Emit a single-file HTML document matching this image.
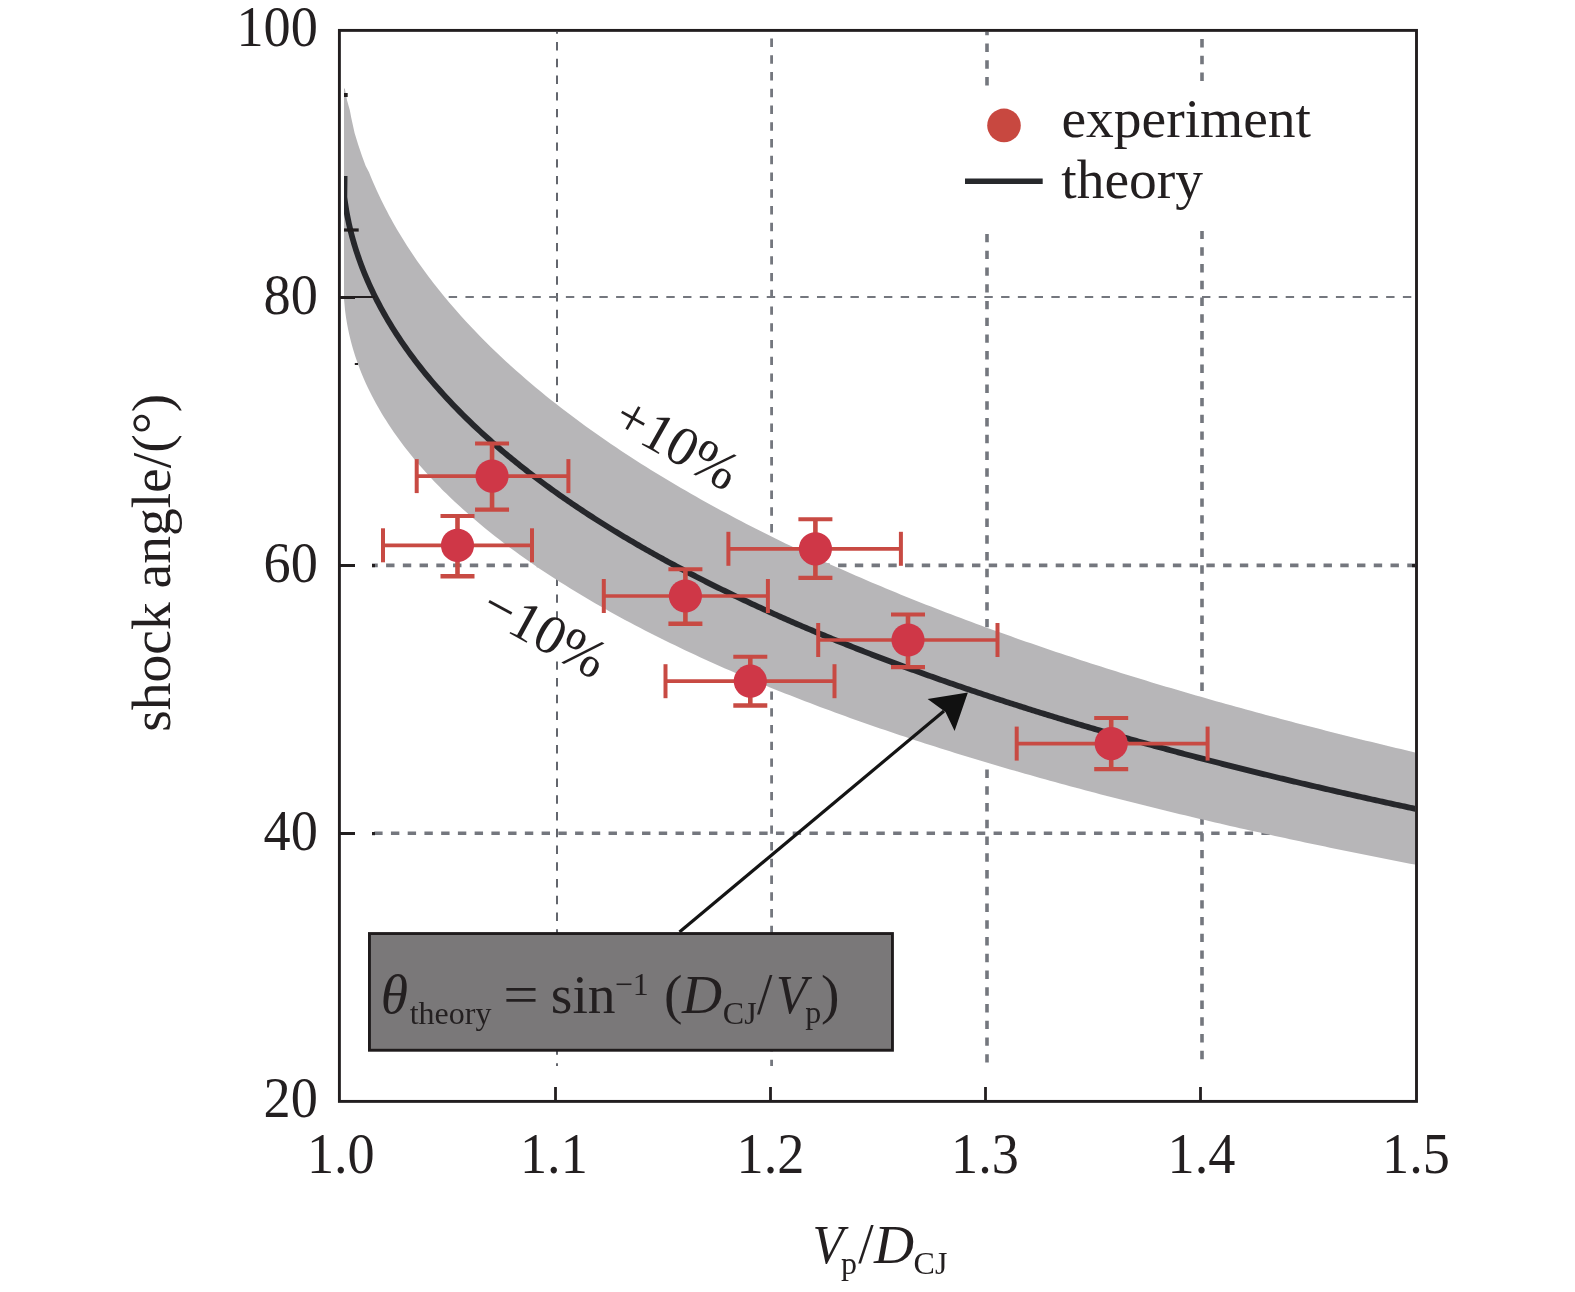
<!DOCTYPE html>
<html><head><meta charset="utf-8"><style>
html,body{margin:0;padding:0;background:#fff;overflow:hidden;}
svg{display:block;will-change:transform;}
text{font-family:"Liberation Serif",serif;fill:#231f20;}
.it{font-style:italic;}
</style></head><body>
<svg width="1575" height="1292" viewBox="0 0 1575 1292">
<rect width="1575" height="1292" fill="#fff"/>
<defs><clipPath id="pc"><rect x="340.8" y="31" width="1074.2" height="1069"/></clipPath><clipPath id="pc2"><rect x="344" y="31" width="1071" height="1069"/></clipPath></defs>
<line x1="557.0" y1="32" x2="557.0" y2="618" stroke="#63666d" stroke-width="2.0" stroke-dasharray="8.4 8.34" stroke-dashoffset="6.74"/>
<line x1="557.0" y1="661" x2="557.0" y2="1066" stroke="#63666d" stroke-width="2.0" stroke-dasharray="8.4 8.34" stroke-dashoffset="16.36"/>
<line x1="771.6" y1="32" x2="771.6" y2="1066" stroke="#74777e" stroke-width="2.8" stroke-dasharray="8.4 8.34" stroke-dashoffset="10.14"/>
<line x1="987.0" y1="32" x2="987.0" y2="87" stroke="#74777e" stroke-width="3.6" stroke-dasharray="8.4 8.34" stroke-dashoffset="5.24"/>
<line x1="987.0" y1="227" x2="987.0" y2="1063" stroke="#74777e" stroke-width="3.6" stroke-dasharray="8.4 8.34" stroke-dashoffset="9.8"/>
<line x1="1202.0" y1="39" x2="1202.0" y2="82" stroke="#74777e" stroke-width="3.6" stroke-dasharray="8.4 8.34" stroke-dashoffset="0"/>
<line x1="1202.0" y1="231" x2="1202.0" y2="1063" stroke="#74777e" stroke-width="3.6" stroke-dasharray="8.4 8.34" stroke-dashoffset="0.44"/>
<line x1="372" y1="297.0" x2="1415" y2="297.0" stroke="#74777e" stroke-width="2.2" stroke-dasharray="8.4 8.34" stroke-dashoffset="7.0"/>
<line x1="372" y1="565.4" x2="1415" y2="565.4" stroke="#74777e" stroke-width="3.6" stroke-dasharray="8.4 8.34" stroke-dashoffset="2.64"/>
<line x1="372" y1="833.2" x2="1415" y2="833.2" stroke="#74777e" stroke-width="3.6" stroke-dasharray="8.4 8.34" stroke-dashoffset="14.54"/>
<g clip-path="url(#pc)">
<path d="M344.00,88.40 L344.80,88.40 L347.10,100.40 L349.90,110.60 L351.30,118.00 L354.60,132.90 L358.30,145.00 L362.00,156.10 L365.70,166.00 L369.00,172.33 L371.00,177.26 L373.00,182.01 L375.00,186.59 L377.00,191.03 L379.00,195.33 L381.00,199.50 L383.00,203.56 L385.00,207.52 L387.00,211.37 L389.00,215.14 L391.00,218.82 L393.00,222.41 L395.00,225.93 L397.00,229.38 L399.00,232.76 L401.00,236.08 L403.00,239.34 L405.00,242.54 L407.00,245.68 L409.00,248.77 L411.00,251.81 L413.00,254.80 L415.00,257.75 L417.00,260.65 L419.00,263.51 L421.00,266.33 L423.00,269.11 L425.00,271.85 L427.00,274.56 L429.00,277.23 L431.00,279.86 L433.00,282.47 L435.00,285.04 L437.00,287.58 L439.00,290.09 L441.00,292.57 L443.00,295.03 L445.00,297.45 L447.00,299.85 L449.00,302.23 L451.00,304.58 L456.00,310.34 L461.00,315.97 L466.00,321.46 L471.00,326.83 L476.00,332.08 L481.00,337.21 L486.00,342.24 L491.00,347.17 L496.00,352.00 L501.00,356.74 L506.00,361.39 L511.00,365.96 L516.00,370.45 L521.00,374.86 L526.00,379.20 L531.00,383.47 L536.00,387.67 L541.00,391.81 L546.00,395.88 L551.00,399.89 L556.00,403.84 L561.00,407.74 L566.00,411.58 L571.00,415.37 L576.00,419.11 L581.00,422.79 L586.00,426.43 L591.00,430.03 L596.00,433.57 L601.00,437.08 L606.00,440.54 L611.00,443.95 L616.00,447.33 L621.00,450.67 L626.00,453.97 L631.00,457.23 L636.00,460.45 L641.00,463.64 L646.00,466.80 L651.00,469.92 L656.00,473.01 L661.00,476.06 L666.00,479.08 L671.00,482.08 L676.00,485.04 L681.00,487.97 L686.00,490.87 L691.00,493.75 L696.00,496.59 L701.00,499.41 L706.00,502.21 L711.00,504.97 L716.00,507.71 L721.00,510.43 L726.00,513.12 L731.00,515.79 L736.00,518.43 L741.00,521.05 L746.00,523.64 L751.00,526.22 L756.00,528.77 L761.00,531.30 L766.00,533.81 L771.00,536.30 L776.00,538.77 L781.00,541.21 L786.00,543.64 L791.00,546.05 L796.00,548.44 L801.00,550.81 L806.00,553.16 L811.00,555.49 L816.00,557.80 L821.00,560.10 L826.00,562.38 L831.00,564.64 L836.00,566.89 L841.00,569.11 L846.00,571.32 L851.00,573.52 L856.00,575.70 L861.00,577.86 L866.00,580.01 L871.00,582.14 L876.00,584.26 L881.00,586.36 L886.00,588.45 L891.00,590.52 L896.00,592.58 L901.00,594.63 L906.00,596.66 L911.00,598.67 L916.00,600.68 L921.00,602.67 L926.00,604.64 L931.00,606.61 L936.00,608.56 L941.00,610.50 L946.00,612.42 L951.00,614.33 L956.00,616.24 L961.00,618.12 L966.00,620.00 L971.00,621.87 L976.00,623.72 L981.00,625.56 L986.00,627.39 L991.00,629.21 L996.00,631.02 L1001.00,632.81 L1006.00,634.60 L1011.00,636.37 L1016.00,638.14 L1021.00,639.89 L1026.00,641.64 L1031.00,643.37 L1036.00,645.09 L1041.00,646.80 L1046.00,648.51 L1051.00,650.20 L1056.00,651.88 L1061.00,653.56 L1066.00,655.22 L1071.00,656.87 L1076.00,658.52 L1081.00,660.16 L1086.00,661.78 L1091.00,663.40 L1096.00,665.01 L1101.00,666.61 L1106.00,668.20 L1111.00,669.78 L1116.00,671.35 L1121.00,672.92 L1126.00,674.48 L1131.00,676.02 L1136.00,677.56 L1141.00,679.10 L1146.00,680.62 L1151.00,682.14 L1156.00,683.64 L1161.00,685.14 L1166.00,686.63 L1171.00,688.12 L1176.00,689.60 L1181.00,691.06 L1186.00,692.53 L1191.00,693.98 L1196.00,695.43 L1201.00,696.86 L1206.00,698.30 L1211.00,699.72 L1216.00,701.14 L1221.00,702.55 L1226.00,703.95 L1231.00,705.35 L1236.00,706.74 L1241.00,708.12 L1246.00,709.50 L1251.00,710.87 L1256.00,712.23 L1261.00,713.59 L1266.00,714.93 L1271.00,716.28 L1276.00,717.61 L1281.00,718.94 L1286.00,720.27 L1291.00,721.59 L1296.00,722.90 L1301.00,724.20 L1306.00,725.50 L1311.00,726.79 L1316.00,728.08 L1321.00,729.36 L1326.00,730.64 L1331.00,731.91 L1336.00,733.17 L1341.00,734.43 L1346.00,735.68 L1351.00,736.93 L1356.00,738.17 L1361.00,739.40 L1366.00,740.63 L1371.00,741.86 L1376.00,743.07 L1381.00,744.29 L1386.00,745.49 L1391.00,746.70 L1396.00,747.89 L1401.00,749.09 L1406.00,750.27 L1411.00,751.45 L1415.50,752.51 L1415.50,864.69 L1415.00,864.60 L1410.00,863.63 L1405.00,862.67 L1400.00,861.69 L1395.00,860.72 L1390.00,859.74 L1385.00,858.75 L1380.00,857.76 L1375.00,856.77 L1370.00,855.77 L1365.00,854.77 L1360.00,853.76 L1355.00,852.75 L1350.00,851.74 L1345.00,850.72 L1340.00,849.69 L1335.00,848.66 L1330.00,847.63 L1325.00,846.59 L1320.00,845.54 L1315.00,844.49 L1310.00,843.44 L1305.00,842.38 L1300.00,841.32 L1295.00,840.25 L1290.00,839.17 L1285.00,838.09 L1280.00,837.01 L1275.00,835.92 L1270.00,834.83 L1265.00,833.73 L1260.00,832.62 L1255.00,831.51 L1250.00,830.39 L1245.00,829.27 L1240.00,828.15 L1235.00,827.01 L1230.00,825.88 L1225.00,824.73 L1220.00,823.58 L1215.00,822.43 L1210.00,821.27 L1205.00,820.10 L1200.00,818.93 L1195.00,817.75 L1190.00,816.56 L1185.00,815.37 L1180.00,814.18 L1175.00,812.97 L1170.00,811.76 L1165.00,810.55 L1160.00,809.33 L1155.00,808.10 L1150.00,806.86 L1145.00,805.62 L1140.00,804.37 L1135.00,803.12 L1130.00,801.86 L1125.00,800.59 L1120.00,799.32 L1115.00,798.03 L1110.00,796.74 L1105.00,795.45 L1100.00,794.15 L1095.00,792.84 L1090.00,791.52 L1085.00,790.19 L1080.00,788.86 L1075.00,787.52 L1070.00,786.17 L1065.00,784.82 L1060.00,783.45 L1055.00,782.08 L1050.00,780.71 L1045.00,779.32 L1040.00,777.92 L1035.00,776.52 L1030.00,775.11 L1025.00,773.69 L1020.00,772.26 L1015.00,770.83 L1010.00,769.38 L1005.00,767.93 L1000.00,766.46 L995.00,764.99 L990.00,763.51 L985.00,762.02 L980.00,760.52 L975.00,759.01 L970.00,757.49 L965.00,755.97 L960.00,754.43 L955.00,752.88 L950.00,751.33 L945.00,749.76 L940.00,748.18 L935.00,746.59 L930.00,745.00 L925.00,743.39 L920.00,741.77 L915.00,740.14 L910.00,738.50 L905.00,736.84 L900.00,735.18 L895.00,733.50 L890.00,731.82 L885.00,730.12 L880.00,728.41 L875.00,726.69 L870.00,724.95 L865.00,723.20 L860.00,721.44 L855.00,719.67 L850.00,717.89 L845.00,716.09 L840.00,714.27 L835.00,712.45 L830.00,710.61 L825.00,708.76 L820.00,706.89 L815.00,705.01 L810.00,703.11 L805.00,701.20 L800.00,699.27 L795.00,697.33 L790.00,695.37 L785.00,693.40 L780.00,691.41 L775.00,689.41 L770.00,687.38 L765.00,685.34 L760.00,683.29 L755.00,681.21 L750.00,679.12 L745.00,677.01 L740.00,674.89 L735.00,672.74 L730.00,670.57 L725.00,668.39 L720.00,666.18 L715.00,663.95 L710.00,661.71 L705.00,659.44 L700.00,657.15 L695.00,654.84 L690.00,652.51 L685.00,650.15 L680.00,647.77 L675.00,645.37 L670.00,642.94 L665.00,640.49 L660.00,638.01 L655.00,635.50 L650.00,632.97 L645.00,630.41 L640.00,627.83 L635.00,625.21 L630.00,622.57 L625.00,619.89 L620.00,617.19 L615.00,614.45 L610.00,611.68 L605.00,608.87 L600.00,606.04 L595.00,603.16 L590.00,600.25 L585.00,597.31 L580.00,594.32 L575.00,591.30 L570.00,588.23 L565.00,585.12 L560.00,581.97 L555.00,578.77 L550.00,575.53 L545.00,572.24 L540.00,568.90 L535.00,565.50 L530.00,562.05 L525.00,558.55 L520.00,554.99 L515.00,551.37 L510.00,547.68 L505.00,543.93 L500.00,540.11 L495.00,536.21 L490.00,532.25 L485.00,528.20 L480.00,524.07 L475.00,519.85 L470.00,515.53 L465.00,511.12 L460.00,506.61 L455.00,501.98 L450.00,497.24 L448.00,495.31 L446.00,493.35 L444.00,491.38 L442.00,489.38 L440.00,487.36 L438.00,485.32 L436.00,483.26 L434.00,481.17 L432.00,479.05 L430.00,476.91 L428.00,474.73 L426.00,472.54 L424.00,470.31 L422.00,468.05 L420.00,465.76 L418.00,463.44 L416.00,461.08 L414.00,458.69 L412.00,456.26 L410.00,453.79 L408.00,451.28 L406.00,448.73 L404.00,446.14 L402.00,443.50 L400.00,440.81 L398.00,438.07 L396.00,435.27 L394.00,432.42 L392.00,429.51 L390.00,426.53 L388.00,423.49 L386.00,420.37 L384.00,417.18 L382.00,413.90 L380.00,410.53 L378.00,407.07 L376.00,403.50 L374.00,399.81 L372.00,395.99 L370.00,392.04 L368.00,387.92 L366.00,383.63 L364.00,379.14 L362.00,374.42 L360.00,369.43 L359.00,366.82 L358.00,364.13 L357.00,361.33 L356.00,358.43 L355.00,355.41 L354.00,352.25 L353.00,348.94 L352.00,345.44 L351.00,341.73 L350.00,337.76 L349.00,333.47 L348.00,328.77 L347.00,323.50 L346.00,317.41 L345.00,309.90 L344.00,299.00 Z" fill="#b7b6b8"/>
<path clip-path="url(#pc2)" d="M344.60,176.00 L344.35,197.00 L344.78,200.35 L345.25,203.70 L345.76,207.05 L346.32,210.40 L346.91,213.75 L347.55,217.10 L348.23,220.45 L348.95,223.80 L349.71,227.15 L350.51,230.50 L351.36,233.85 L352.24,237.20 L353.17,240.55 L354.14,243.90 L355.16,247.25 L356.21,250.60 L357.31,253.95 L358.45,257.30 L359.63,260.65 L360.85,264.00 L362.12,267.35 L363.43,270.70 L364.78,274.05 L366.18,277.40 L367.62,280.75 L369.10,284.10 L370.63,287.45 L372.20,290.80 L373.81,294.15 L375.47,297.50 L377.17,300.85 L378.92,304.20 L380.71,307.55 L382.54,310.90 L384.42,314.25 L386.35,317.60 L388.32,320.95 L390.33,324.30 L392.39,327.65 L394.50,331.00 L396.65,334.35 L398.85,337.70 L401.10,341.05 L403.39,344.40 L405.73,347.75 L408.12,351.10 L410.55,354.45 L413.04,357.80 L415.57,361.15 L418.14,364.50 L420.77,367.85 L423.45,371.20 L426.17,374.55 L428.94,377.90 L431.77,381.25 L434.64,384.60 L437.56,387.95 L440.54,391.30 L443.56,394.65 L446.64,398.00 L449.76,401.35 L452.94,404.70 L456.17,408.05 L459.46,411.40 L462.79,414.75 L466.18,418.10 L469.63,421.45 L473.12,424.80 L476.68,428.15 L480.28,431.50 L482.28,433.34 L484.28,435.16 L486.28,436.96 L488.28,438.76 L490.28,440.53 L492.28,442.30 L494.28,444.05 L496.28,445.78 L498.28,447.51 L500.28,449.22 L502.28,450.92 L504.28,452.60 L506.28,454.28 L508.28,455.94 L510.28,457.59 L512.28,459.23 L514.28,460.85 L516.28,462.47 L518.28,464.07 L520.28,465.67 L522.28,467.25 L524.28,468.82 L526.28,470.39 L528.28,471.94 L530.28,473.48 L532.28,475.01 L534.28,476.54 L536.28,478.05 L538.28,479.55 L540.28,481.05 L542.28,482.53 L544.28,484.01 L546.28,485.48 L548.28,486.94 L550.28,488.39 L552.28,489.83 L554.28,491.26 L556.28,492.69 L558.28,494.10 L560.28,495.51 L562.28,496.91 L564.28,498.31 L566.28,499.69 L568.28,501.07 L570.28,502.44 L572.28,503.80 L574.28,505.16 L576.28,506.50 L578.28,507.85 L580.28,509.18 L582.28,510.51 L584.28,511.83 L586.28,513.14 L588.28,514.45 L590.28,515.75 L592.28,517.04 L594.28,518.33 L596.28,519.61 L598.28,520.88 L600.28,522.15 L602.28,523.41 L604.28,524.66 L606.28,525.91 L608.28,527.15 L610.28,528.39 L612.28,529.62 L614.28,530.85 L616.28,532.07 L618.28,533.28 L620.28,534.49 L622.28,535.69 L624.28,536.89 L626.28,538.08 L628.28,539.27 L630.28,540.45 L632.28,541.62 L634.28,542.79 L636.28,543.96 L638.28,545.12 L640.28,546.27 L642.28,547.42 L644.28,548.57 L646.28,549.71 L648.28,550.84 L650.28,551.97 L652.28,553.10 L654.28,554.22 L656.28,555.33 L658.28,556.44 L660.28,557.55 L662.28,558.65 L664.28,559.75 L666.28,560.84 L668.28,561.93 L670.28,563.01 L672.28,564.09 L674.28,565.17 L676.28,566.24 L678.28,567.30 L680.28,568.36 L682.28,569.42 L684.28,570.48 L686.28,571.52 L688.28,572.57 L690.28,573.61 L692.28,574.65 L694.28,575.68 L696.28,576.71 L698.28,577.74 L700.28,578.76 L702.28,579.77 L704.28,580.79 L706.28,581.80 L708.28,582.80 L710.28,583.81 L712.28,584.81 L714.28,585.80 L716.28,586.79 L718.28,587.78 L720.28,588.76 L722.28,589.74 L724.28,590.72 L726.28,591.69 L728.28,592.66 L730.28,593.63 L732.28,594.59 L734.28,595.55 L736.28,596.51 L738.28,597.46 L740.28,598.41 L742.28,599.35 L744.28,600.30 L746.28,601.24 L748.28,602.17 L750.28,603.11 L752.28,604.04 L754.28,604.96 L756.28,605.88 L758.28,606.81 L760.28,607.72 L762.28,608.64 L764.28,609.55 L766.28,610.45 L768.28,611.36 L770.28,612.26 L772.28,613.16 L774.28,614.06 L776.28,614.95 L778.28,615.84 L780.28,616.73 L782.28,617.61 L784.28,618.49 L786.28,619.37 L788.28,620.24 L790.28,621.12 L792.28,621.99 L794.28,622.85 L796.28,623.72 L798.28,624.58 L800.28,625.44 L802.28,626.30 L804.28,627.15 L806.28,628.00 L808.28,628.85 L810.28,629.69 L812.28,630.54 L814.28,631.38 L816.28,632.21 L818.28,633.05 L820.28,633.88 L822.28,634.71 L824.28,635.54 L826.28,636.36 L828.28,637.19 L830.28,638.01 L832.28,638.82 L834.28,639.64 L836.28,640.45 L838.28,641.26 L840.28,642.07 L842.28,642.88 L844.28,643.68 L846.28,644.48 L848.28,645.28 L850.28,646.07 L852.28,646.87 L854.28,647.66 L856.28,648.45 L858.28,649.23 L860.28,650.02 L862.28,650.80 L864.28,651.58 L866.28,652.36 L868.28,653.13 L870.28,653.91 L872.28,654.68 L874.28,655.45 L876.28,656.21 L878.28,656.98 L880.28,657.74 L882.28,658.50 L884.28,659.26 L886.28,660.01 L888.28,660.77 L890.28,661.52 L892.28,662.27 L894.28,663.02 L896.28,663.76 L898.28,664.51 L900.28,665.25 L902.28,665.99 L904.28,666.73 L906.28,667.46 L908.28,668.19 L910.28,668.93 L912.28,669.65 L914.28,670.38 L916.28,671.11 L918.28,671.83 L920.28,672.55 L922.28,673.27 L924.28,673.99 L926.28,674.71 L928.28,675.42 L930.28,676.13 L932.28,676.84 L934.28,677.55 L936.28,678.26 L938.28,678.96 L940.28,679.67 L942.28,680.37 L944.28,681.07 L946.28,681.76 L948.28,682.46 L950.28,683.15 L952.28,683.85 L954.28,684.54 L956.28,685.22 L958.28,685.91 L960.28,686.60 L962.28,687.28 L964.28,687.96 L966.28,688.64 L968.28,689.32 L970.28,690.00 L972.28,690.67 L974.28,691.34 L976.28,692.01 L978.28,692.68 L980.28,693.35 L982.28,694.02 L984.28,694.68 L986.28,695.35 L988.28,696.01 L990.28,696.67 L992.28,697.33 L994.28,697.98 L996.28,698.64 L998.28,699.29 L1000.28,699.94 L1002.28,700.59 L1004.28,701.24 L1006.28,701.89 L1008.28,702.53 L1010.28,703.18 L1012.28,703.82 L1014.28,704.46 L1016.28,705.10 L1018.28,705.74 L1020.28,706.37 L1022.28,707.01 L1024.28,707.64 L1026.28,708.27 L1028.28,708.90 L1030.28,709.53 L1032.28,710.16 L1034.28,710.78 L1036.28,711.41 L1038.28,712.03 L1040.28,712.65 L1042.28,713.27 L1044.28,713.89 L1046.28,714.51 L1048.28,715.12 L1050.28,715.74 L1052.28,716.35 L1054.28,716.96 L1056.28,717.57 L1058.28,718.18 L1060.28,718.79 L1062.28,719.39 L1064.28,720.00 L1066.28,720.60 L1068.28,721.20 L1070.28,721.80 L1072.28,722.40 L1074.28,723.00 L1076.28,723.60 L1078.28,724.19 L1080.28,724.78 L1082.28,725.38 L1084.28,725.97 L1086.28,726.56 L1088.28,727.15 L1090.28,727.73 L1092.28,728.32 L1094.28,728.90 L1096.28,729.48 L1098.28,730.07 L1100.28,730.65 L1102.28,731.23 L1104.28,731.80 L1106.28,732.38 L1108.28,732.96 L1110.28,733.53 L1112.28,734.10 L1114.28,734.67 L1116.28,735.25 L1118.28,735.81 L1120.28,736.38 L1122.28,736.95 L1124.28,737.51 L1126.28,738.08 L1128.28,738.64 L1130.28,739.20 L1132.28,739.76 L1134.28,740.32 L1136.28,740.88 L1138.28,741.44 L1140.28,741.99 L1142.28,742.55 L1144.28,743.10 L1146.28,743.65 L1148.28,744.21 L1150.28,744.76 L1152.28,745.30 L1154.28,745.85 L1156.28,746.40 L1158.28,746.94 L1160.28,747.49 L1162.28,748.03 L1164.28,748.57 L1166.28,749.11 L1168.28,749.65 L1170.28,750.19 L1172.28,750.73 L1174.28,751.27 L1176.28,751.80 L1178.28,752.34 L1180.28,752.87 L1182.28,753.40 L1184.28,753.93 L1186.28,754.46 L1188.28,754.99 L1190.28,755.52 L1192.28,756.04 L1194.28,756.57 L1196.28,757.09 L1198.28,757.62 L1200.28,758.14 L1202.28,758.66 L1204.28,759.18 L1206.28,759.70 L1208.28,760.22 L1210.28,760.73 L1212.28,761.25 L1214.28,761.77 L1216.28,762.28 L1218.28,762.79 L1220.28,763.30 L1222.28,763.82 L1224.28,764.33 L1226.28,764.83 L1228.28,765.34 L1230.28,765.85 L1232.28,766.35 L1234.28,766.86 L1236.28,767.36 L1238.28,767.87 L1240.28,768.37 L1242.28,768.87 L1244.28,769.37 L1246.28,769.87 L1248.28,770.37 L1250.28,770.86 L1252.28,771.36 L1254.28,771.85 L1256.28,772.35 L1258.28,772.84 L1260.28,773.33 L1262.28,773.82 L1264.28,774.31 L1266.28,774.80 L1268.28,775.29 L1270.28,775.78 L1272.28,776.27 L1274.28,776.75 L1276.28,777.24 L1278.28,777.72 L1280.28,778.20 L1282.28,778.68 L1284.28,779.16 L1286.28,779.64 L1288.28,780.12 L1290.28,780.60 L1292.28,781.08 L1294.28,781.56 L1296.28,782.03 L1298.28,782.51 L1300.28,782.98 L1302.28,783.45 L1304.28,783.92 L1306.28,784.40 L1308.28,784.87 L1310.28,785.34 L1312.28,785.80 L1314.28,786.27 L1316.28,786.74 L1318.28,787.20 L1320.28,787.67 L1322.28,788.13 L1324.28,788.60 L1326.28,789.06 L1328.28,789.52 L1330.28,789.98 L1332.28,790.44 L1334.28,790.90 L1336.28,791.36 L1338.28,791.82 L1340.28,792.27 L1342.28,792.73 L1344.28,793.18 L1346.28,793.64 L1348.28,794.09 L1350.28,794.54 L1352.28,794.99 L1354.28,795.44 L1356.28,795.89 L1358.28,796.34 L1360.28,796.79 L1362.28,797.24 L1364.28,797.69 L1366.28,798.13 L1368.28,798.58 L1370.28,799.02 L1372.28,799.46 L1374.28,799.91 L1376.28,800.35 L1378.28,800.79 L1380.28,801.23 L1382.28,801.67 L1384.28,802.11 L1386.28,802.55 L1388.28,802.98 L1390.28,803.42 L1392.28,803.86 L1394.28,804.29 L1396.28,804.73 L1398.28,805.16 L1400.28,805.59 L1402.28,806.02 L1404.28,806.45 L1406.28,806.88 L1408.28,807.31 L1410.28,807.74 L1412.28,808.17 L1414.28,808.60 L1416.28,809.02 L1418.28,809.45" fill="none" stroke="#26272b" stroke-width="5.8" stroke-linejoin="round"/>
</g>
<line x1="555.5" y1="1087" x2="555.5" y2="1101" stroke="#221e1f" stroke-width="2.8"/>
<line x1="770.5" y1="1087" x2="770.5" y2="1101" stroke="#221e1f" stroke-width="2.8"/>
<line x1="985.5" y1="1087" x2="985.5" y2="1101" stroke="#221e1f" stroke-width="2.8"/>
<line x1="1200.5" y1="1087" x2="1200.5" y2="1101" stroke="#221e1f" stroke-width="2.8"/>
<line x1="340" y1="297.5" x2="355" y2="297.5" stroke="#221e1f" stroke-width="3"/>
<line x1="340" y1="565.5" x2="355" y2="565.5" stroke="#221e1f" stroke-width="3"/>
<line x1="340" y1="833.5" x2="355" y2="833.5" stroke="#221e1f" stroke-width="3"/>
<line x1="344" y1="230" x2="358.7" y2="230" stroke="#221e1f" stroke-width="3.2"/>
<line x1="354.8" y1="364" x2="358" y2="364" stroke="#221e1f" stroke-width="2"/>
<line x1="355" y1="297" x2="375" y2="297" stroke="#221e1f" stroke-width="2"/>
<rect x="344" y="93" width="3.7" height="4" fill="#221e1f"/>
<rect x="372" y="564" width="3" height="3.2" fill="#221e1f"/>
<rect x="372" y="832" width="3" height="3.2" fill="#221e1f"/>
<rect x="1412" y="564" width="3" height="3.2" fill="#221e1f"/>
<line x1="416.7" y1="476.1" x2="568.4" y2="476.1" stroke="#c84a43" stroke-width="3.7"/>
<line x1="416.7" y1="459.1" x2="416.7" y2="493.1" stroke="#c84a43" stroke-width="4"/>
<line x1="568.4" y1="459.1" x2="568.4" y2="493.1" stroke="#c84a43" stroke-width="4"/>
<line x1="492.05" y1="443.4" x2="492.05" y2="509.6" stroke="#c84a43" stroke-width="4.6"/>
<line x1="475.05" y1="443.4" x2="509.05" y2="443.4" stroke="#c84a43" stroke-width="4.0"/>
<line x1="475.05" y1="509.6" x2="509.05" y2="509.6" stroke="#c84a43" stroke-width="4.4"/>
<circle cx="492.05" cy="476.1" r="16.6" fill="#cf3747"/>
<line x1="383.0" y1="545.3" x2="532.0" y2="545.3" stroke="#c84a43" stroke-width="3.7"/>
<line x1="383.0" y1="528.3" x2="383.0" y2="562.3" stroke="#c84a43" stroke-width="4"/>
<line x1="532.0" y1="528.3" x2="532.0" y2="562.3" stroke="#c84a43" stroke-width="4"/>
<line x1="457.5" y1="515.9" x2="457.5" y2="576.3" stroke="#c84a43" stroke-width="4.6"/>
<line x1="440.5" y1="515.9" x2="474.5" y2="515.9" stroke="#c84a43" stroke-width="4.0"/>
<line x1="440.5" y1="576.3" x2="474.5" y2="576.3" stroke="#c84a43" stroke-width="4.4"/>
<circle cx="457.5" cy="545.3" r="16.6" fill="#cf3747"/>
<line x1="603.8" y1="596.0" x2="767.9" y2="596.0" stroke="#c84a43" stroke-width="3.7"/>
<line x1="603.8" y1="579.0" x2="603.8" y2="613.0" stroke="#c84a43" stroke-width="4"/>
<line x1="767.9" y1="579.0" x2="767.9" y2="613.0" stroke="#c84a43" stroke-width="4"/>
<line x1="685.4" y1="569.3" x2="685.4" y2="623.8" stroke="#c84a43" stroke-width="4.6"/>
<line x1="668.4" y1="569.3" x2="702.4" y2="569.3" stroke="#c84a43" stroke-width="4.0"/>
<line x1="668.4" y1="623.8" x2="702.4" y2="623.8" stroke="#c84a43" stroke-width="4.4"/>
<circle cx="685.4" cy="596.0" r="16.6" fill="#cf3747"/>
<line x1="728.4" y1="548.8" x2="900.9" y2="548.8" stroke="#c84a43" stroke-width="3.7"/>
<line x1="728.4" y1="531.8" x2="728.4" y2="565.8" stroke="#c84a43" stroke-width="4"/>
<line x1="900.9" y1="531.8" x2="900.9" y2="565.8" stroke="#c84a43" stroke-width="4"/>
<line x1="815.4" y1="519.3" x2="815.4" y2="577.9" stroke="#c84a43" stroke-width="4.6"/>
<line x1="798.4" y1="519.3" x2="832.4" y2="519.3" stroke="#c84a43" stroke-width="4.0"/>
<line x1="798.4" y1="577.9" x2="832.4" y2="577.9" stroke="#c84a43" stroke-width="4.4"/>
<circle cx="815.4" cy="548.8" r="16.6" fill="#cf3747"/>
<line x1="665.5" y1="681.2" x2="834.5" y2="681.2" stroke="#c84a43" stroke-width="3.7"/>
<line x1="665.5" y1="664.2" x2="665.5" y2="698.2" stroke="#c84a43" stroke-width="4"/>
<line x1="834.5" y1="664.2" x2="834.5" y2="698.2" stroke="#c84a43" stroke-width="4"/>
<line x1="750.3" y1="656.7" x2="750.3" y2="705.5" stroke="#c84a43" stroke-width="4.6"/>
<line x1="733.3" y1="656.7" x2="767.3" y2="656.7" stroke="#c84a43" stroke-width="4.0"/>
<line x1="733.3" y1="705.5" x2="767.3" y2="705.5" stroke="#c84a43" stroke-width="4.4"/>
<circle cx="750.3" cy="681.2" r="16.6" fill="#cf3747"/>
<line x1="818.2" y1="640.0" x2="997.5" y2="640.0" stroke="#c84a43" stroke-width="3.7"/>
<line x1="818.2" y1="623.0" x2="818.2" y2="657.0" stroke="#c84a43" stroke-width="4"/>
<line x1="997.5" y1="623.0" x2="997.5" y2="657.0" stroke="#c84a43" stroke-width="4"/>
<line x1="908.0" y1="614.4" x2="908.0" y2="667.1" stroke="#c84a43" stroke-width="4.6"/>
<line x1="891.0" y1="614.4" x2="925.0" y2="614.4" stroke="#c84a43" stroke-width="4.0"/>
<line x1="891.0" y1="667.1" x2="925.0" y2="667.1" stroke="#c84a43" stroke-width="4.4"/>
<circle cx="908.0" cy="640.0" r="16.6" fill="#cf3747"/>
<line x1="1016.7" y1="743.6" x2="1207.6" y2="743.6" stroke="#c84a43" stroke-width="3.7"/>
<line x1="1016.7" y1="726.6" x2="1016.7" y2="760.6" stroke="#c84a43" stroke-width="4"/>
<line x1="1207.6" y1="726.6" x2="1207.6" y2="760.6" stroke="#c84a43" stroke-width="4"/>
<line x1="1111.2" y1="718.1" x2="1111.2" y2="769.1" stroke="#c84a43" stroke-width="4.6"/>
<line x1="1094.2" y1="718.1" x2="1128.2" y2="718.1" stroke="#c84a43" stroke-width="4.0"/>
<line x1="1094.2" y1="769.1" x2="1128.2" y2="769.1" stroke="#c84a43" stroke-width="4.4"/>
<circle cx="1111.2" cy="743.6" r="16.6" fill="#cf3747"/>
<rect x="339.4" y="30.4" width="1077.1" height="1071" fill="none" stroke="#221e1f" stroke-width="2.9"/>
<g font-size="56.5"><text transform="translate(317.8,45.8) scale(0.96,1)" text-anchor="end">100</text><text transform="translate(317.8,314.4) scale(0.96,1)" text-anchor="end">80</text><text transform="translate(317.8,582.4) scale(0.96,1)" text-anchor="end">60</text><text transform="translate(317.8,849.5) scale(0.96,1)" text-anchor="end">40</text><text transform="translate(317.8,1117.2) scale(0.96,1)" text-anchor="end">20</text><text transform="translate(340.8,1172.6) scale(0.96,1)" text-anchor="middle">1.0</text><text transform="translate(553.9,1172.6) scale(0.96,1)" text-anchor="middle">1.1</text><text transform="translate(770.5,1172.6) scale(0.96,1)" text-anchor="middle">1.2</text><text transform="translate(985.0,1172.6) scale(0.96,1)" text-anchor="middle">1.3</text><text transform="translate(1201.5,1172.6) scale(0.96,1)" text-anchor="middle">1.4</text><text transform="translate(1416.0,1172.6) scale(0.96,1)" text-anchor="middle">1.5</text></g>
<!-- legend -->
<circle cx="1004" cy="125.4" r="16.8" fill="#c84840"/>
<line x1="965" y1="181.3" x2="1042.7" y2="181.3" stroke="#27292c" stroke-width="5.6"/>
<text x="1061.4" y="137.1" font-size="55.5">experiment</text>
<text x="1061.3" y="197.7" font-size="55.5">theory</text>
<!-- band labels -->
<text font-size="55.5" transform="translate(610.2,426.5) rotate(29.5)">+10%</text>
<text font-size="55.5" transform="translate(477.7,616.0) rotate(28.7)">&#8722;10%</text>
<!-- arrow -->
<line x1="679.5" y1="932" x2="944" y2="711" stroke="#141414" stroke-width="3.2"/>
<path d="M967.9,692.6 L927.6,699.1 L945.5,712 L954.6,731 Z" fill="#111"/>
<!-- formula box -->
<rect x="369.45" y="933.55" width="523" height="116.7" fill="#7a7879" stroke="#1f1b1c" stroke-width="2.9"/>
<text class="it" x="380.7" y="1013" font-size="55.5">&#952;</text>
<text x="409.7" y="1023.8" font-size="32">theory</text>
<text transform="translate(503.2,1013) scale(1.13,1)" font-size="55.5">=</text>
<text x="550.8" y="1013" font-size="55.5">sin</text>
<text x="614.7" y="994.6" font-size="32">&#8722;1</text>
<text x="663.9" y="1013" font-size="55.5">(</text>
<text class="it" x="682" y="1013" font-size="55.5">D</text>
<text x="722.8" y="1024.3" font-size="32">CJ</text>
<text transform="translate(757.1,1013.6) scale(1,1.075)" font-size="55.5">/</text>
<text class="it" transform="translate(776.0,1013) scale(0.92,1)" font-size="55.5">V</text>
<text x="805.3" y="1023.1" font-size="32">p</text>
<text x="821" y="1013" font-size="55.5">)</text>
<!-- axis titles -->
<text font-size="55.5" transform="translate(169.6,731.8) rotate(-90)">shock angle/(&#176;)</text>
<text class="it" transform="translate(812.4,1263.4) scale(0.92,1)" font-size="55.5">V</text>
<text x="841" y="1273.6" font-size="32">p</text>
<text transform="translate(858.2,1262.9) scale(1,1.04)" font-size="55.5">/</text>
<text class="it" x="873.9" y="1263.4" font-size="55.5">D</text>
<text x="913.6" y="1274.3" font-size="32">CJ</text>
</svg>
</body></html>
